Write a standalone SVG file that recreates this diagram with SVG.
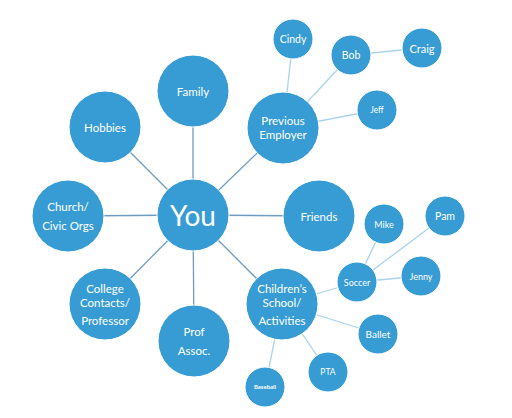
<svg xmlns="http://www.w3.org/2000/svg" width="512" height="418" viewBox="0 0 512 418">
<style>
.n{fill:#379bd4;stroke:#ffffff;stroke-width:1}
.t{fill:#ffffff;font-family:Lato,"Liberation Sans",sans-serif;text-anchor:middle;dominant-baseline:central}
.m{stroke:#6e9cc0;stroke-width:1.3;fill:none}
.s{stroke:#a9d3ec;stroke-width:1.3;fill:none}
</style>
<rect width="512" height="418" fill="#ffffff"/>
<g id="connectors">
<line class="m" x1="193" y1="215" x2="193" y2="91"/>
<line class="m" x1="193" y1="215" x2="105" y2="127"/>
<line class="m" x1="193" y1="215" x2="68" y2="216"/>
<line class="m" x1="193" y1="215" x2="105" y2="304"/>
<line class="m" x1="193" y1="215" x2="194" y2="341"/>
<line class="m" x1="193" y1="215" x2="283" y2="128"/>
<line class="m" x1="193" y1="215" x2="319" y2="216"/>
<line class="m" x1="193" y1="215" x2="282" y2="304"/>
<line class="s" x1="283" y1="128" x2="293" y2="39"/>
<line class="s" x1="283" y1="128" x2="351" y2="55"/>
<line class="s" x1="351" y1="55" x2="422" y2="48"/>
<line class="s" x1="283" y1="128" x2="377" y2="110"/>
<line class="s" x1="282" y1="304" x2="357" y2="282"/>
<line class="s" x1="357" y1="282" x2="384" y2="224"/>
<line class="s" x1="357" y1="282" x2="445" y2="216"/>
<line class="s" x1="357" y1="282" x2="421" y2="276"/>
<line class="s" x1="282" y1="304" x2="378" y2="334"/>
<line class="s" x1="282" y1="304" x2="328" y2="372"/>
<line class="s" x1="282" y1="304" x2="265" y2="387"/>
</g>
<g id="you"><circle class="n" cx="193" cy="215" r="36"/><text class="t" x="193" y="215" font-size="28">You</text></g>
<g id="family"><circle class="n" cx="193" cy="91" r="36"/><text class="t" x="193" y="91" font-size="11.5">Family</text></g>
<g id="hobbies"><circle class="n" cx="105" cy="127" r="36"/><text class="t" x="105" y="127" font-size="11.5">Hobbies</text></g>
<g id="church"><circle class="n" cx="68" cy="216" r="36"/><text class="t" x="68" y="206" font-size="11.5">Church/</text><text class="t" x="68" y="225" font-size="11.5">Civic Orgs</text></g>
<g id="college"><circle class="n" cx="105" cy="304" r="36"/><text class="t" x="105" y="288" font-size="11.5">College</text><text class="t" x="105" y="302" font-size="11.5">Contacts/</text><text class="t" x="105" y="320" font-size="11.5">Professor</text></g>
<g id="prof"><circle class="n" cx="194" cy="341" r="36"/><text class="t" x="194" y="331" font-size="11.5">Prof</text><text class="t" x="194" y="350" font-size="11.5">Assoc.</text></g>
<g id="employer"><circle class="n" cx="283" cy="128" r="36"/><text class="t" x="283" y="120" font-size="11.5">Previous</text><text class="t" x="283" y="134" font-size="11.5">Employer</text></g>
<g id="friends"><circle class="n" cx="319" cy="216" r="36"/><text class="t" x="319" y="216" font-size="11.5">Friends</text></g>
<g id="children"><circle class="n" cx="282" cy="304" r="36"/><text class="t" x="282" y="288" font-size="11.5">Children’s</text><text class="t" x="282" y="302" font-size="11.5">School/</text><text class="t" x="282" y="320" font-size="11.5">Activities</text></g>
<g id="cindy"><circle class="n" cx="293" cy="39" r="20"/><text class="t" x="293" y="39" font-size="10.5">Cindy</text></g>
<g id="bob"><circle class="n" cx="351" cy="55" r="20"/><text class="t" x="351" y="55" font-size="10.5">Bob</text></g>
<g id="craig"><circle class="n" cx="422" cy="48" r="20"/><text class="t" x="422" y="48" font-size="11">Craig</text></g>
<g id="jeff"><circle class="n" cx="377" cy="110" r="20"/><text class="t" x="377" y="110" font-size="8.5">Jeff</text></g>
<g id="mike"><circle class="n" cx="384" cy="224" r="20"/><text class="t" x="384" y="224" font-size="9">Mike</text></g>
<g id="pam"><circle class="n" cx="445" cy="216" r="20"/><text class="t" x="445" y="216" font-size="10.5">Pam</text></g>
<g id="soccer"><circle class="n" cx="357" cy="282" r="20"/><text class="t" x="357" y="282" font-size="9">Soccer</text></g>
<g id="jenny"><circle class="n" cx="421" cy="276" r="20"/><text class="t" x="421" y="276" font-size="9">Jenny</text></g>
<g id="ballet"><circle class="n" cx="378" cy="334" r="20"/><text class="t" x="378" y="334" font-size="10">Ballet</text></g>
<g id="pta"><circle class="n" cx="328" cy="372" r="20"/><text class="t" x="328" y="372" font-size="8.5">PTA</text></g>
<g id="baseball"><circle class="n" cx="265" cy="387" r="20"/><text class="t" x="265" y="386" font-size="6" font-weight="bold">Baseball</text></g>
</svg>
